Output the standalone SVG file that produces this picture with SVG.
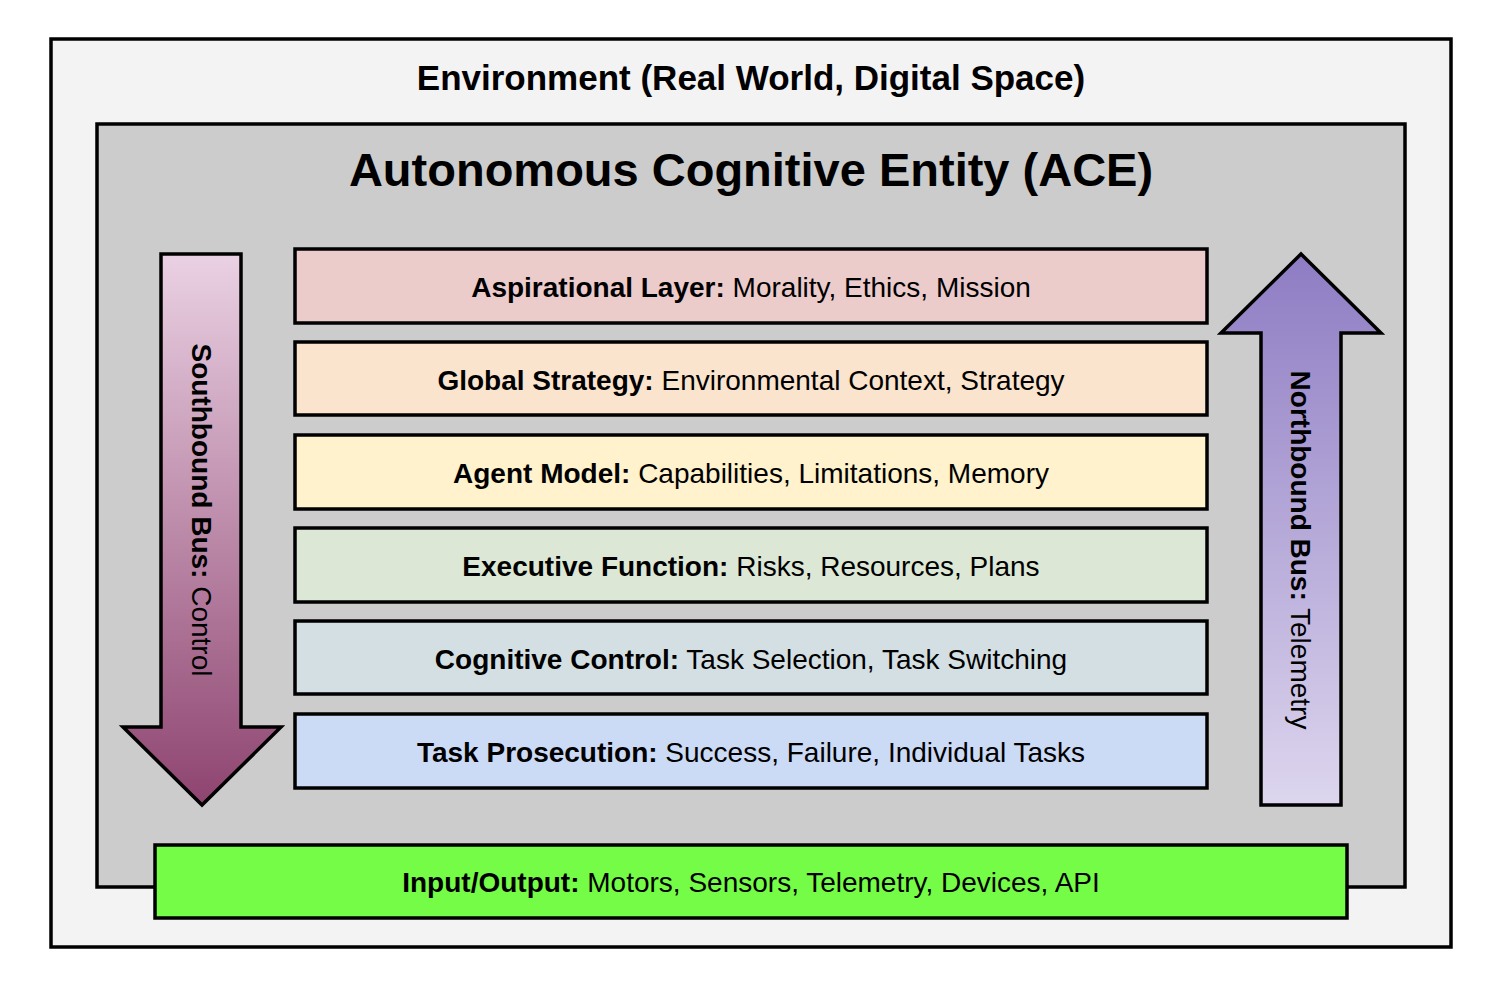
<svg xmlns="http://www.w3.org/2000/svg" width="1500" height="1006" viewBox="0 0 1500 1006">
<style>
text{font-family:"Liberation Sans",Arial,sans-serif;fill:#000}
.t{font-size:28px;text-anchor:middle}
.b{font-weight:bold}
.box{stroke:#000;stroke-width:3.5}
</style>
<defs>
<linearGradient id="gs" x1="0" y1="0" x2="0" y2="1"><stop offset="0" stop-color="#ead1e3"/><stop offset="1" stop-color="#8e4470"/></linearGradient>
<linearGradient id="gn" x1="0" y1="0" x2="0" y2="1"><stop offset="0" stop-color="#8e7cc3"/><stop offset="1" stop-color="#ddd6ee"/></linearGradient>
</defs>
<rect width="1500" height="1006" fill="#fff"/>
<g id="environment"><rect class="box" x="51" y="39" width="1400" height="908" fill="#f3f3f3"/>
<text x="751" y="90" font-size="35" text-anchor="middle" class="b">Environment (Real World, Digital Space)</text></g>
<g id="ace"><rect class="box" x="97" y="124" width="1308" height="763" fill="#cccccc"/>
<text x="751" y="186" font-size="47" text-anchor="middle" class="b">Autonomous Cognitive Entity (ACE)</text></g>
<g id="layers">
<g id="aspirational"><rect class="box" x="295" y="249" width="912" height="74" fill="#eccbcb"/><text class="t" x="751" y="297"><tspan class="b">Aspirational Layer:</tspan> Morality, Ethics, Mission</text></g>
<g id="global"><rect class="box" x="295" y="342" width="912" height="73" fill="#fbe4cd"/><text class="t" x="751" y="390"><tspan class="b">Global Strategy:</tspan> Environmental Context, Strategy</text></g>
<g id="agent"><rect class="box" x="295" y="435" width="912" height="74" fill="#fff2cc"/><text class="t" x="751" y="483"><tspan class="b">Agent Model:</tspan> Capabilities, Limitations, Memory</text></g>
<g id="executive"><rect class="box" x="295" y="528" width="912" height="74" fill="#dce8d5"/><text class="t" x="751" y="576"><tspan class="b">Executive Function:</tspan> Risks, Resources, Plans</text></g>
<g id="cognitive"><rect class="box" x="295" y="621" width="912" height="73" fill="#d3dfe3"/><text class="t" x="751" y="669"><tspan class="b">Cognitive Control:</tspan> Task Selection, Task Switching</text></g>
<g id="task"><rect class="box" x="295" y="714" width="912" height="74" fill="#cbdaf5"/><text class="t" x="751" y="762"><tspan class="b">Task Prosecution:</tspan> Success, Failure, Individual Tasks</text></g>
</g>
<g id="io"><rect class="box" x="155" y="845" width="1192" height="73" fill="#74fc46"/><text class="t" x="751" y="892"><tspan class="b">Input/Output:</tspan> Motors, Sensors, Telemetry, Devices, API</text></g>
<g id="connectors">
<g id="southbound"><path class="box" d="M161 254H241V727H281L202 805L123 727H161Z" fill="url(#gs)"/>
<text class="t" transform="translate(192 510) rotate(90)"><tspan class="b">Southbound Bus:</tspan> Control</text></g>
<g id="northbound"><path class="box" d="M1261 805H1341V333H1381L1301 254L1221 333H1261Z" fill="url(#gn)"/>
<text class="t" transform="translate(1291 550) rotate(90)"><tspan class="b">Northbound Bus:</tspan> Telemetry</text></g>
</g>
</svg>
